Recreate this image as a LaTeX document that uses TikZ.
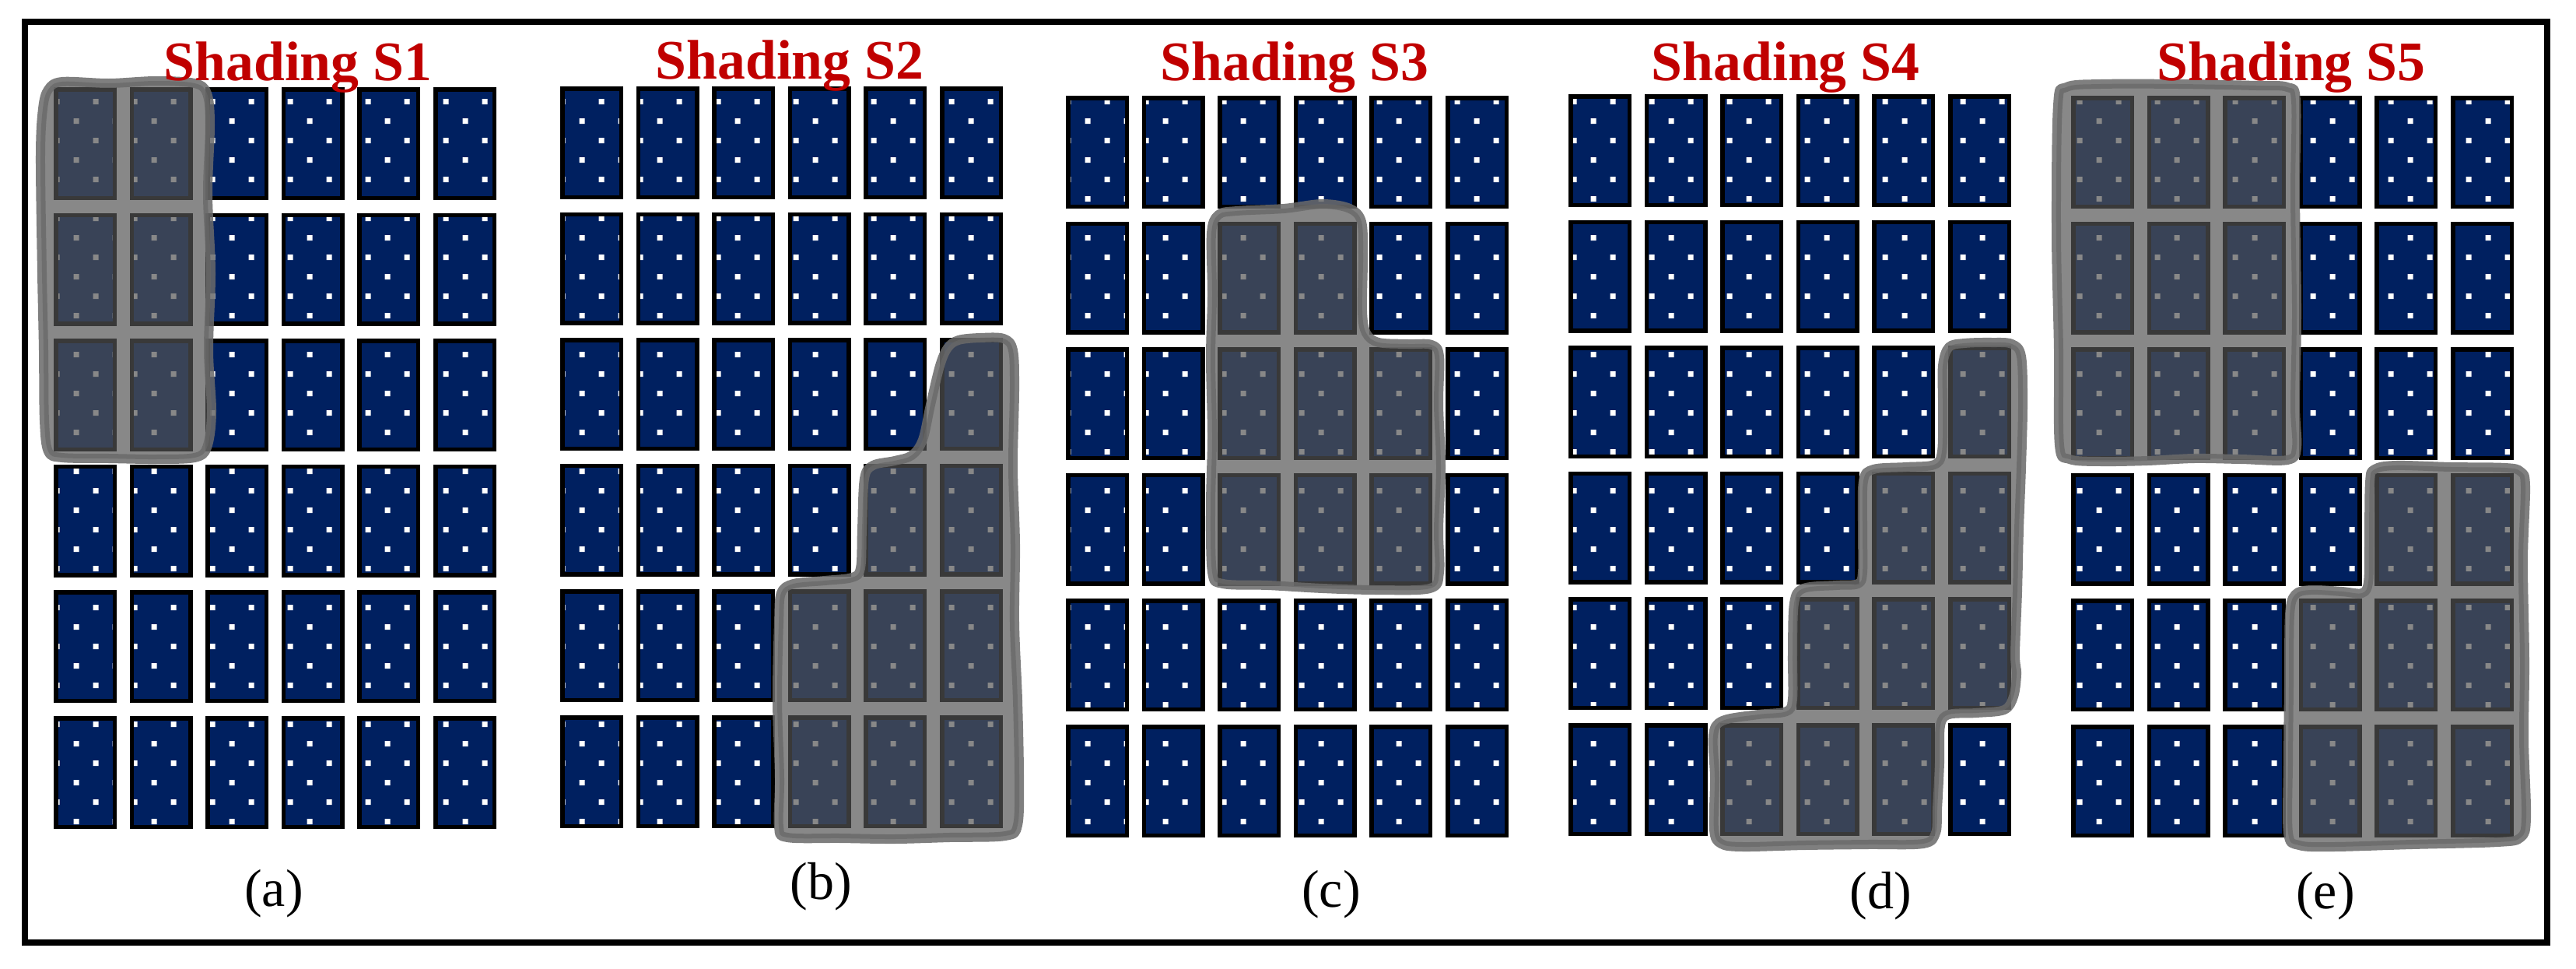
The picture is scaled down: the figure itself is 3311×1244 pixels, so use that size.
\documentclass[tikz,border=0pt]{standalone}
\usepackage{fontspec}
\setmainfont{Liberation Serif}
\definecolor{pvnavy}{RGB}{0,32,96}
\definecolor{titlered}{RGB}{192,0,0}
\definecolor{shadefill}{RGB}{84,84,84}
\definecolor{shadeline}{RGB}{106,106,106}
\tikzset{
  tilefill/.style={fill=pvnavy},
  tileborder/.style={draw=black, line width=1.65pt},
  shaderegion/.style={fill=shadefill, fill opacity=0.69, draw=shadeline, draw opacity=0.86,
     line width=3.6pt, line join=round},
  paneltitle/.style={text=titlered, font=\fontsize{21.5}{24}\selectfont\bfseries, anchor=base, inner sep=0pt},
  panellabel/.style={text=black, font=\fontsize{20.4}{24}\selectfont, anchor=base, inner sep=0pt},
  frameline/.style={draw=black, line width=2.4pt}
}
\begin{document}
\begin{tikzpicture}[x=0.3pt,y=-0.3pt]
\useasboundingbox (0,0) rectangle (3311,1244);
\fill[white] (0,0) rectangle (3311,1244);
% tile fills
\foreach \X/\Y in {69/112,720/111,1370/123,2016/121,2662/123}{
  \foreach \c in {0,...,5}{
    \foreach \r in {0,...,5}{
      \fill[tilefill] ({\X+97.6*\c},{\Y+161.6*\r}) rectangle ++(81,145);
    }
  }
}
% dot lattice clipped to tiles
\begin{scope}
\clip \foreach \X/\Y in {69/112,720/111,1370/123,2016/121,2662/123}{
  \foreach \c in {0,...,5}{
    \foreach \r in {0,...,5}{
      ({\X+97.6*\c},{\Y+161.6*\r}) rectangle ++(81,145)
    }
  }
};
\fill[white] \foreach \i in {0,...,65}{
  \foreach \j in {0,...,21}{
    ({19.7+50*\i},{77+50*\j}) rectangle ++(7,7)
    ({44.7+50*\i},{102+50*\j}) rectangle ++(7,7)
  }
};
\end{scope}
% tile borders
\foreach \X/\Y in {69/112,720/111,1370/123,2016/121,2662/123}{
  \foreach \c in {0,...,5}{
    \foreach \r in {0,...,5}{
      \draw[tileborder] ({\X+97.6*\c+2.75},{\Y+161.6*\r+2.75}) rectangle ++(75.5,139.5);
    }
  }
}
% shading regions
\path[shaderegion] plot[smooth cycle, tension=0.55] coordinates {
  (52,200) (55,140) (62,115) (80,105) (140,107) (200,104) (250,107) (266,120) (270,160) (267,250)
  (271,350) (268,450) (272,530) (266,575) (250,588) (200,590) (140,589) (80,588) (62,580) (57,540)
  (56,450) (54,350)};
\path[shaderegion] plot[smooth cycle, tension=0.55] coordinates {
  (1232,437) (1260,434) (1290,435) (1302,450) (1304,500) (1302,600) (1305,700) (1304,800) (1308,900)
  (1310,1000) (1308,1060) (1292,1074) (1220,1076) (1150,1078) (1080,1077) (1012,1076) (1001,1062)
  (1002,1000) (999,900) (1001,800) (1004,762) (1020,750) (1060,746) (1095,742) (1106,730) (1108,680)
  (1111,615) (1122,598) (1150,592) (1172,585) (1186,565) (1196,520) (1208,470) (1218,447)};
\path[shaderegion] plot[smooth cycle, tension=0.55] coordinates {
  (1557,300) (1566,276) (1590,271) (1650,268) (1700,262) (1735,268) (1750,285) (1752,330) (1751,400)
  (1756,428) (1772,440) (1810,442) (1840,443) (1850,458) (1849,520) (1852,600) (1849,680) (1850,735)
  (1838,756) (1770,758) (1700,756) (1630,752) (1572,750) (1558,735) (1556,650) (1558,560) (1556,460)
  (1558,380)};
\path[shaderegion] plot[smooth cycle, tension=0.55] coordinates {
  (2497,470) (2505,446) (2525,441) (2560,440) (2586,442) (2598,458) (2600,520) (2598,600) (2595,680)
  (2593,760) (2590,840) (2592,866) (2588,895) (2576,912) (2540,916) (2505,918) (2494,932) (2493,980)
  (2490,1040) (2488,1070) (2472,1084) (2400,1085) (2320,1086) (2240,1088) (2212,1084) (2203,1066)
  (2204,1000) (2202,945) (2214,926) (2260,918) (2296,914) (2304,898) (2304,840) (2306,775) (2318,756)
  (2360,752) (2388,750) (2394,735) (2394,680) (2395,618) (2408,603) (2450,600) (2486,597) (2496,580)
  (2497,520)};
\path[shaderegion] plot[smooth cycle, tension=0.55] coordinates {
  (2643,300) (2645,135) (2656,112) (2700,108) (2800,108) (2900,110) (2940,112) (2951,130) (2950,250)
  (2952,400) (2950,520) (2952,575) (2940,591) (2880,590) (2820,589) (2760,592) (2700,593) (2660,590)
  (2647,572) (2646,450)};
\path[shaderegion] plot[smooth cycle, tension=0.55] coordinates {
  (3046,620) (3052,603) (3080,598) (3150,600) (3220,601) (3240,606) (3246,625) (3243,720) (3245,850)
  (3244,950) (3247,1050) (3240,1076) (3210,1082) (3100,1085) (3000,1088) (2955,1086) (2941,1070)
  (2941,980) (2942,880) (2943,790) (2950,764) (2970,758) (3010,760) (3036,762) (3044,748) (3045,700)};
% frame
\draw[frameline] (32,28) rectangle (3274,1211);
% titles
\node[paneltitle] (t1) at (383,103) {Shading S1};
\node[paneltitle] (t2) at (1015,102) {Shading S2};
\node[paneltitle] (t3) at (1664,103) {Shading S3};
\node[paneltitle] (t4) at (2295,103) {Shading S4};
\node[paneltitle] (t5) at (2945,103) {Shading S5};
% labels
\node[panellabel] (l1) at (352,1164) {(a)};
\node[panellabel] (l2) at (1055,1155) {(b)};
\node[panellabel] (l3) at (1711,1165) {(c)};
\node[panellabel] (l4) at (2417,1167) {(d)};
\node[panellabel] (l5) at (2989,1167) {(e)};
\end{tikzpicture}
\end{document}
